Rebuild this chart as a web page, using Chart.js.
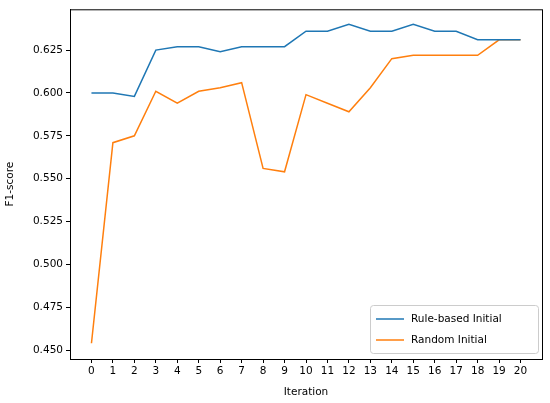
<!DOCTYPE html><html><head><script src="https://cdn.jsdelivr.net/npm/chart.js@4/dist/chart.umd.min.js"></script>
<style>body{margin:0;background:#fff}</style></head><body><canvas id="c" width="550" height="403"></canvas>
<script>
const iterations=[0,1,2,3,4,5,6,7,8,9,10,11,12,13,14,15,16,17,18,19,20];
const ruleBased=[0.600,0.600,0.598,0.625,0.627,0.627,0.624,0.627,0.627,0.627,0.636,0.636,0.640,0.636,0.636,0.640,0.636,0.636,0.631,0.631,0.631];
const randomInit=[0.454,0.571,0.575,0.601,0.594,0.601,0.603,0.606,0.556,0.554,0.599,0.594,0.589,0.603,0.620,0.622,0.622,0.622,0.622,0.631,0.631];
const seriesNames=['Rule-based Initial','Random Initial'];
const colors=['#1f77b4','#ff7f0e'];
const font={family:'DejaVu Sans',size:10.5};
const frame={id:'frame',afterDraw(ch){const a=ch.chartArea,c=ch.ctx;c.save();c.strokeStyle='#000';c.lineWidth=1;c.strokeRect(a.left+0.5,a.top+0.5,a.right-a.left,a.bottom-a.top);
const x0=370,y0=305,w=168,h=48;c.fillStyle='rgba(255,255,255,0.8)';c.strokeStyle='#ccc';c.beginPath();c.roundRect(x0+0.5,y0+0.5,w,h,3);c.fill();c.stroke();
c.font='10.5px DejaVu Sans';c.textBaseline='middle';seriesNames.forEach((n,i)=>{const y=y0+14+i*21;c.strokeStyle=colors[i];c.lineWidth=1.5;c.beginPath();c.moveTo(x0+6,y);c.lineTo(x0+34,y);c.stroke();c.fillStyle='#000';c.fillText(n,x0+41,y);});c.restore();}};
const grid={display:true,drawOnChartArea:false,drawTicks:true,tickLength:4,color:'#000'};
new Chart(document.getElementById('c'),{type:'line',data:{datasets:[ruleBased,randomInit].map((d,i)=>({label:seriesNames[i],data:d.map((v,j)=>({x:iterations[j],y:v})),borderColor:colors[i],borderWidth:1.5,pointRadius:0,tension:0}))},
options:{responsive:false,animation:false,layout:{padding:{top:7,right:8}},plugins:{legend:{display:false},tooltip:{enabled:false}},
scales:{x:{type:'linear',min:-1,max:21,grid,border:{color:'#000'},afterFit(s){s.height=44;},
ticks:{stepSize:1,color:'#000',font,maxRotation:0,autoSkip:false,padding:2,callback:v=>(v<0||v>20)?'':v},
afterBuildTicks(s){s.ticks=s.ticks.filter(t=>t.value>=0&&t.value<=20);},
title:{display:true,text:'Iteration',color:'#000',font,padding:{top:2}}},
y:{min:0.4448,max:0.6488,grid,border:{color:'#000'},afterFit(s){s.width=70;},
afterBuildTicks(s){s.ticks=[];for(let v=0.45;v<=0.6251;v+=0.025)s.ticks.push({value:+v.toFixed(3)});},
ticks:{color:'#000',font,padding:3,callback:v=>v.toFixed(3)},
title:{display:true,text:'F1-score',color:'#000',font,padding:{bottom:4}}}}},plugins:[frame]});
</script></body></html>
